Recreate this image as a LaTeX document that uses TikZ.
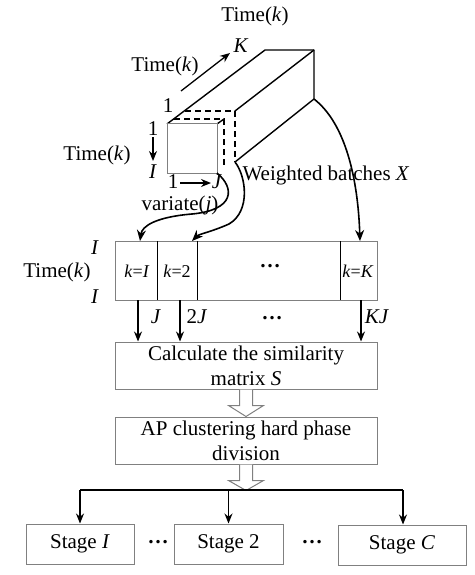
\documentclass[tikz,border=0pt]{standalone}
\usepackage{fontspec}
\setmainfont{Liberation Serif}
\usetikzlibrary{arrows.meta}
\begin{document}
\begin{tikzpicture}[x=1pt,y=-1pt,
  every node/.style={font=\fontsize{21}{25}\selectfont, inner sep=0pt, align=center},
  klbl/.style={font=\fontsize{18}{22}\selectfont},
  tight/.style={text depth=0pt, text height=13pt},
  gbox/.style={draw=black!50, line width=1pt, fill=white},
  edge/.style={line width=1.4pt, line join=round},
  dsh/.style={line width=1.4pt, dash pattern=on 6pt off 4pt},
  arr/.style={line width=1.3pt, -{Stealth[length=10pt,width=8pt]}},
  carr/.style={line width=1.6pt, -{Stealth[length=11pt,width=9pt]}},
  hollow/.style={draw=black!50, line width=1pt, fill=white, line join=miter},
  dots/.style={font=\fontsize{21}{25}\selectfont\bfseries}
]
\useasboundingbox (0,0) rectangle (474,575);

% ---- cube / weighted batches ----
\coordinate (FTL) at (167,124);
\coordinate (FTR) at (217,124);
\coordinate (FBR) at (217,173);
\coordinate (S1TL) at (174,119);
\coordinate (S1TR) at (224,119);
\coordinate (S1BR) at (224,168);
\coordinate (S2TL) at (185,111);
\coordinate (S2TR) at (235,111);
\coordinate (S2BR) at (235,162);
\coordinate (BTL) at (265,50);
\coordinate (BTR) at (314,50);
\coordinate (BBR) at (314,99);

\draw[dsh] (S1TL) -- (S1TR) -- (S1BR);
\draw[dsh] (S2TL) -- (S2TR) -- (S2BR);
\draw[edge] (FTL) -- (BTL) -- (BTR) -- (BBR) -- (S2BR);
\draw[edge] (S2TR) -- (BTR);
\draw[edge] (FTR) -- (S1TR);
\draw[gbox] (FTL) rectangle (FBR);

% labels round the cube
\node (tTop) at (255,16) {Time(\textit{k})};
\node (tDepth) at (165,66) {Time(\textit{k})};
\coordinate (dA) at (181,91);
\coordinate (dB) at (230,53);
\draw[arr] (dA) -- (dB);
\node (Kl) at (241,46) {\textit{K}};
\node (one1) at (168,106) {1};
\node (one2) at (153,129) {1};
\coordinate (vA) at (153,137);
\coordinate (vB) at (153,161);
\draw[arr] (vA) -- (vB);
\node (Il) at (153,172) {\textit{I}};
\node (tLeft) at (97,155) {Time(\textit{k})};
\node[tight] (one3) at (173,182) {1};
\coordinate (hA) at (180,183);
\coordinate (hB) at (211,183);
\draw[arr] (hA) -- (hB);
\node[tight] (Jl) at (217,182) {\textit{J}};
\node (var) at (180,205) {variate(\textit{j})};
\node (wb) at (326,175) {Weighted batches \textit{X}};

% ---- unfolded batch matrix ----
\node[gbox, minimum width=262pt, minimum height=59pt] (batch) at (246,270.5) {};
\coordinate (d1t) at (157,241); \coordinate (d1b) at (157,300);
\coordinate (d2t) at (197,241); \coordinate (d2b) at (197,300);
\coordinate (d3t) at (340,241); \coordinate (d3b) at (340,300);
\draw[line width=1pt] (d1t) -- (d1b) (d2t) -- (d2b) (d3t) -- (d3b);
\node[klbl] (k1) at (137,271) {\textit{k}=\textit{I}};
\node[klbl] (k2) at (177,271) {\textit{k}=2};
\node[dots] (kd) at (270,266) {…};
\node[klbl] (kK) at (358,271) {\textit{k}=\textit{K}};
\node (bI1) at (95,248) {\textit{I}};
\node (bT) at (57,272) {Time(\textit{k})};
\node (bI2) at (95,297) {\textit{I}};

% curved arrows from the cube to the batch matrix
\coordinate (c1) at (140,241);
\coordinate (c2) at (192,241);
\coordinate (c3) at (360,241);
\draw[carr] (FBR) .. controls (235,188) and (235,210) .. (192,214)
  .. controls (156,217) and (142,226) .. (c1);
\draw[carr] (S2BR) .. controls (246,176) and (251,211) .. (229,224)
  .. controls (211,232) and (199,234) .. (c2);
\draw[carr] (BBR) .. controls (346,124) and (358,180) .. (c3);

% ---- similarity matrix ----
\node[gbox, minimum width=262pt, minimum height=47pt] (sim) at (246,365.5)
  {Calculate the similarity\\matrix \textit{S}};
\coordinate (o1) at (138,300);
\coordinate (o2) at (180,300);
\coordinate (o3) at (361,300);
\draw[arr] (o1) -- (o1 |- sim.north);
\draw[arr] (o2) -- (o2 |- sim.north);
\draw[arr] (o3) -- (o3 |- sim.north);
\node (J1) at (156,317) {\textit{J}};
\node (J2) at (197,317) {2\textit{J}};
\node[dots] (Jd) at (272,318) {…};
\node (J3) at (377,317) {\textit{KJ}};

% ---- AP clustering ----
\node[gbox, minimum width=262pt, minimum height=47pt] (ap) at (246,440.5)
  {AP clustering hard phase\\division};
\draw[hollow, shift={(sim.south)}] (-6.5,0) -- (-6.5,16) -- (-17.5,16) -- (0,27)
  -- (17.5,16) -- (6.5,16) -- (6.5,0);
\draw[hollow, shift={(ap.south)}] (-6.5,0) -- (-6.5,16) -- (-17.5,16) -- (0,26)
  -- (17.5,16) -- (6.5,16) -- (6.5,0);

% ---- stages ----
\node[gbox, minimum width=108pt, minimum height=40pt] (s1) at (80,544) {Stage \textit{I}};
\node[gbox, minimum width=109pt, minimum height=40pt] (s2) at (228.5,544) {Stage 2};
\node[gbox, minimum width=128pt, minimum height=40pt] (sC) at (402,545) {Stage \textit{C}};
\node[dots] (sd1) at (158,542) {…};
\node[dots] (sd2) at (312,542) {…};
\coordinate (b1) at (80,490);
\coordinate (b2) at (228.5,490);
\coordinate (b3) at (403,490);
\draw[line width=1.3pt] (b1) -- (b3);
\draw[arr] (b1) -- (s1.north);
\draw[arr] (b2) -- (s2.north);
\draw[arr] (b3) -- (b3 |- sC.north);
\end{tikzpicture}
\end{document}
